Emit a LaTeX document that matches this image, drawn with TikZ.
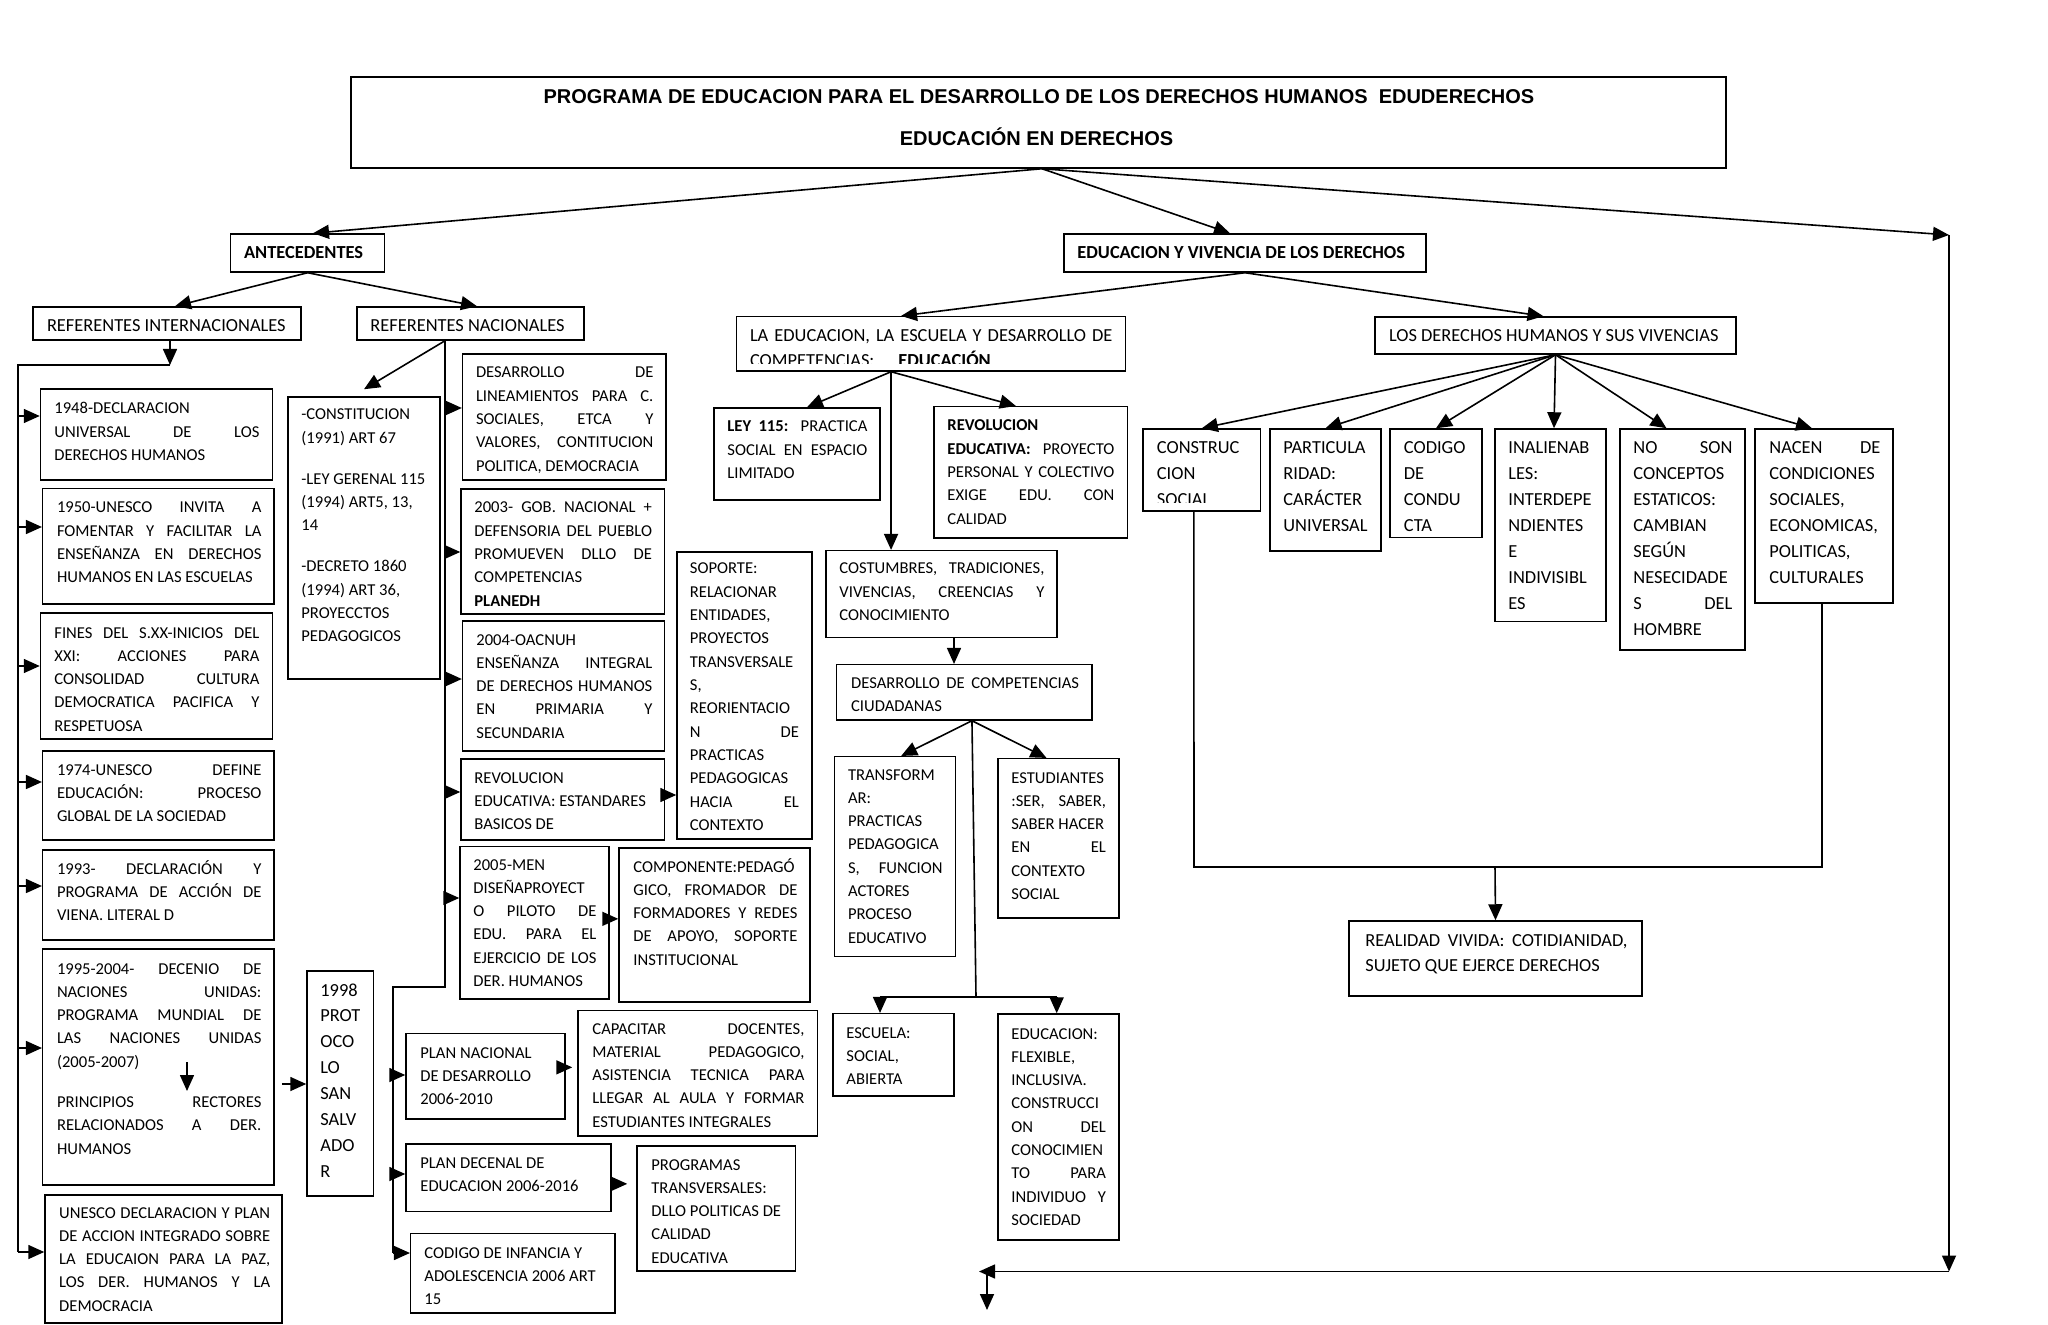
\documentclass[tikz,border=0pt]{standalone}
\usepackage{fontspec}
\setmainfont{Carlito}
\newfontfamily\ttlfont{Liberation Sans}
\usetikzlibrary{arrows.meta,fit,calc}
\newlength\pxu \setlength\pxu{0.5pt}
\hbadness=10000 \hfuzz=3pt
\newcommand\fsA{\fontsize{8.3}{11.65}\selectfont}
\newcommand\fsB{\fontsize{9.2}{12.95}\selectfont}
\newcommand\fsH{\fontsize{9.2}{12.5}\selectfont}
\newcommand\myj[1]{\hbox to\hsize{#1}}
\newcommand\myl[1]{\hbox to\hsize{#1\hfil}}
\newcommand\bx[5]{\node[frame, fit={(#2,#3)(#4,#5)}] (#1) {};}
\newcommand\tx[6][tx]{\node[#1] (#2) at (#3,#4) {\vtop{\hsize=#5\pxu\relax #6}};}
\tikzset{
  frame/.style={draw, line width=0.75pt, inner sep=0pt},
  tx/.style={inner sep=0pt, anchor=base west, font=\fsA},
  txB/.style={inner sep=0pt, anchor=base west, font=\fsB},
  txH/.style={inner sep=0pt, anchor=base west, font=\fsH},
  arr/.style={line width=0.8pt, -{Triangle[length=8pt,width=7pt]}},
  ln/.style={line width=0.8pt}
}
\begin{document}
\begin{tikzpicture}[x=0.5pt,y=-0.5pt]
\fill[white] (0,0) rectangle (2048,1325);
\useasboundingbox (0,0) rectangle (2048,1325);

% ---------- title ----------
\bx{ttl}{351}{77}{1726}{168}
\node[inner sep=0pt, anchor=base, font=\ttlfont\bfseries\fontsize{10}{21}\selectfont] (ttl1) at (1039,104) {PROGRAMA DE EDUCACION PARA EL DESARROLLO DE LOS DERECHOS HUMANOS\ \ EDUDERECHOS};
\node[inner sep=0pt, anchor=base, font=\ttlfont\bfseries\fontsize{10}{21}\selectfont] (ttl2) at (1036.5,146) {EDUCACIÓN EN DERECHOS};

% ---------- level 1 ----------
\bx{ante}{230.5}{234}{384.7}{272}
\tx[txH]{antet}{243.6}{259}{200}{\myl{\textbf{ANTECEDENTES}}}
\bx{eyv}{1064}{234}{1426}{272}
\tx[txH]{eyvt}{1077}{259}{400}{\myl{\textbf{EDUCACION Y VIVENCIA DE LOS DERECHOS}}}

% ---------- level 2 ----------
\bx{refint}{33}{307}{301}{340}
\tx[txH]{refintt}{46.6}{331.7}{300}{\myl{REFERENTES INTERNACIONALES}}
\bx{refnac}{357}{307}{584}{340}
\tx[txH]{refnact}{370}{332}{300}{\myl{REFERENTES NACIONALES}}
\bx{laedu}{736.6}{316.7}{1125.5}{371}
\begin{scope}
\clip (736.6,316.7) rectangle (1125.5,364);
\tx[txH]{laedut}{749.6}{341.7}{362.4}{\myj{LA EDUCACION, LA ESCUELA Y DESARROLLO DE}\myl{COMPETENCIAS:\hspace{12pt}\textbf{EDUCACIÓN}}}
\end{scope}
\bx{losder}{1375}{317}{1736}{354}
\tx[txH]{losdert}{1388.6}{341.7}{400}{\myl{LOS DERECHOS HUMANOS Y SUS VIVENCIAS}}

% ---------- internacionales ----------
\bx{i1948}{40.5}{389}{272.7}{480}
\tx{i1948t}{54}{414}{205}{\myl{1948-DECLARACION}\myj{UNIVERSAL DE LOS}\myl{DERECHOS HUMANOS}}
\bx{i1950}{42.7}{488.7}{274}{604}
\tx{i1950t}{56.6}{513}{204.4}{\myj{1950-UNESCO INVITA A}\myj{FOMENTAR Y FACILITAR LA}\myj{ENSEÑANZA EN DERECHOS}\myl{HUMANOS EN LAS ESCUELAS}}
\bx{ifines}{40.5}{613}{272.7}{739}
\tx{ifinest}{54}{638}{205}{\myj{FINES DEL S.XX-INICIOS DEL}\myj{XXI: ACCIONES PARA}\myj{CONSOLIDAD CULTURA}\myj{DEMOCRATICA PACIFICA Y}\myl{RESPETUOSA}}
\bx{i1974}{42.7}{751}{274}{840}
\tx{i1974t}{56.6}{775}{204.4}{\myj{1974-UNESCO DEFINE}\myj{EDUCACIÓN: PROCESO}\myl{GLOBAL DE LA SOCIEDAD}}
\bx{i1993}{42.7}{850}{274}{940}
\tx{i1993t}{56.6}{874}{204.4}{\myj{1993- DECLARACIÓN Y}\myj{PROGRAMA DE ACCIÓN DE}\myl{VIENA. LITERAL D}}
\bx{i1995}{42.7}{949}{274}{1185}
\tx{i1995t}{56.6}{974}{204.4}{\myj{1995-2004- DECENIO DE}\myj{NACIONES UNIDAS:}\myj{PROGRAMA MUNDIAL DE}\myj{LAS NACIONES UNIDAS}\myl{(2005-2007)}\vskip8.5pt\myj{PRINCIPIOS RECTORES}\myj{RELACIONADOS A DER.}\myl{HUMANOS}}
\coordinate (ia) at (187,1062);
\coordinate (ib) at (187,1091);
\draw[arr] (ia) -- (ib);
\bx{iunesco}{45}{1195}{282}{1323}
\tx{iunescot}{58.8}{1218}{211}{\myj{UNESCO DECLARACION Y PLAN}\myj{DE ACCION INTEGRADO SOBRE}\myj{LA EDUCAION PARA LA PAZ,}\myj{LOS DER. HUMANOS Y LA}\myl{DEMOCRACIA}}
\bx{p1998}{307}{971}{373.7}{1196}
\tx[txB]{p1998t}{320}{996}{60}{\myl{1998}\myl{PROT}\myl{OCO}\myl{LO}\myl{SAN}\myl{SALV}\myl{ADO}\myl{R}}

% ---------- nacionales ----------
\bx{constit}{288}{397}{440}{679}
\tx{constitt}{301}{420}{200}{\myl{-CONSTITUCION}\myl{(1991) ART 67}\vskip8.85pt\myl{-LEY GERENAL 115}\myl{(1994) ART5, 13,}\myl{14}\vskip8.85pt\myl{-DECRETO 1860}\myl{(1994) ART 36,}\myl{PROYECCTOS}\myl{PEDAGOGICOS}}
\bx{desarr}{462.6}{354}{666}{480}
\tx{desarrt}{475.6}{378}{177.4}{\myj{DESARROLLO DE}\myj{LINEAMIENTOS PARA C.}\myj{SOCIALES, ETCA Y}\myj{VALORES, CONTITUCION}\myl{POLITICA, DEMOCRACIA}}
\bx{n2003}{461}{489}{664.7}{614}
\tx{n2003t}{474}{513}{177.6}{\myj{2003- GOB. NACIONAL +}\myj{DEFENSORIA DEL PUEBLO}\myj{PROMUEVEN DLLO DE}\myl{COMPETENCIAS}\myl{\textbf{PLANEDH}}}
\bx{n2004}{462.6}{621}{664.7}{751}
\tx{n2004t}{476}{645}{176}{\myl{2004-OACNUH}\myj{ENSEÑANZA INTEGRAL}\myj{DE DERECHOS HUMANOS}\myj{EN PRIMARIA Y}\myl{SECUNDARIA}}
\bx{nrevol}{461}{759}{664.7}{840}
\tx{nrevolt}{474}{783}{190}{\myl{REVOLUCION}\myl{EDUCATIVA: ESTANDARES}\myl{BASICOS DE}}
\bx{soporte}{677}{552}{812}{839}
\tx{soportet}{689.5}{574}{109}{\myl{SOPORTE:}\myl{RELACIONAR}\myl{ENTIDADES,}\myl{PROYECTOS}\myl{TRANSVERSALE}\myl{S,}\myl{REORIENTACIO}\myj{N DE}\myl{PRACTICAS}\myl{PEDAGOGICAS}\myj{HACIA EL}\myl{CONTEXTO}}
\bx{n2005}{460}{846.7}{609}{999}
\tx{n2005t}{473}{870}{123}{\myl{2005-MEN}\myl{DISEÑAPROYECT}\myj{O PILOTO DE}\myj{EDU. PARA EL}\myj{EJERCICIO DE LOS}\myl{DER. HUMANOS}}
\bx{compon}{619}{848}{810}{1002}
\tx{compont}{633}{872}{164}{\myl{COMPONENTE:PEDAGÓ}\myj{GICO, FROMADOR DE}\myj{FORMADORES Y REDES}\myj{DE APOYO, SOPORTE}\myl{INSTITUCIONAL}}
\bx{plannac}{406}{1033.7}{565}{1119}
\tx{plannact}{420}{1058}{150}{\myl{PLAN NACIONAL}\myl{DE DESARROLLO}\myl{2006-2010}}
\bx{capac}{578}{1010.7}{817.7}{1136}
\tx{capact}{592}{1034}{212}{\myj{CAPACITAR DOCENTES,}\myj{MATERIAL PEDAGOGICO,}\myj{ASISTENCIA TECNICA PARA}\myj{LLEGAR AL AULA Y FORMAR}\myl{ESTUDIANTES INTEGRALES}}
\bx{plandec}{406}{1144}{611}{1211.7}
\tx{plandect}{420}{1168}{190}{\myl{PLAN DECENAL DE}\myl{EDUCACION 2006-2016}}
\bx{program}{637}{1146}{795.7}{1271}
\tx{programt}{651}{1170}{150}{\myl{PROGRAMAS}\myl{TRANSVERSALES:}\myl{DLLO POLITICAS DE}\myl{CALIDAD}\myl{EDUCATIVA}}
\bx{codigo}{410.7}{1233.7}{615}{1313}
\tx{codigot}{424}{1258}{190}{\myl{CODIGO DE INFANCIA Y}\myl{ADOLESCENCIA 2006 ART}\myl{15}}

% ---------- centro ----------
\bx{ley115}{714}{408}{880}{500}
\tx{ley115t}{727}{432}{140}{\myj{\textbf{LEY 115:} PRACTICA}\myj{SOCIAL EN ESPACIO}\myl{LIMITADO}}
\bx{revedu}{934}{406.7}{1127.7}{538}
\tx{revedut}{947}{431}{167}{\myl{\textbf{REVOLUCION}}\myj{\textbf{EDUCATIVA:} PROYECTO}\myj{PERSONAL Y COLECTIVO}\myj{EXIGE EDU. CON}\myl{CALIDAD}}
\bx{costum}{826}{550.7}{1057}{637.7}
\tx{costumt}{839}{574}{205}{\myj{COSTUMBRES, TRADICIONES,}\myj{VIVENCIAS, CREENCIAS Y}\myl{CONOCIMIENTO}}
\bx{descomp}{836.7}{664.7}{1092}{720}
\tx{descompt}{850.7}{688}{228}{\myj{DESARROLLO DE COMPETENCIAS}\myl{CIUDADANAS}}
\bx{transf}{834.6}{756.7}{955.7}{956.7}
\tx{transft}{847.6}{780}{94.5}{\myl{TRANSFORM}\myl{AR:}\myl{PRACTICAS}\myl{PEDAGOGICA}\myj{S, FUNCION}\myl{ACTORES}\myl{PROCESO}\myl{EDUCATIVO}}
\bx{estud}{998}{758.7}{1119}{918}
\tx{estudt}{1011}{783}{94.5}{\myl{ESTUDIANTES}\myj{:SER, SABER,}\myl{SABER HACER}\myj{EN EL}\myl{CONTEXTO}\myl{SOCIAL}}
\bx{escuela}{833}{1013.7}{954}{1096}
\tx{escuelat}{846}{1038}{100}{\myl{ESCUELA:}\myl{SOCIAL,}\myl{ABIERTA}}
\bx{educfl}{998}{1014}{1119}{1240}
\tx{educflt}{1011}{1039}{94.5}{\myl{EDUCACION:}\myl{FLEXIBLE,}\myl{INCLUSIVA.}\myl{CONSTRUCCI}\myj{ON DEL}\myl{CONOCIMIEN}\myj{TO PARA}\myj{INDIVIDUO Y}\myl{SOCIEDAD}}

% ---------- derecha ----------
\bx{constr}{1143}{429}{1260.6}{511}
\begin{scope}
\clip (1143,429) rectangle (1260.6,503);
\tx[txB]{constrt}{1156.5}{454}{100}{\myl{CONSTRUC}\myl{CION}\myl{SOCIAL}}
\end{scope}
\bx{partic}{1270}{429}{1381}{551}
\tx[txB]{partict}{1283}{454}{95}{\myl{PARTICULA}\myl{RIDAD:}\myl{CARÁCTER}\myl{UNIVERSAL}}
\bx{codcond}{1390}{429}{1482}{537.7}
\tx[txB]{codcondt}{1403.5}{454}{75}{\myl{CODIGO}\myl{DE}\myl{CONDU}\myl{CTA}}
\bx{inalien}{1495}{429}{1606}{621.7}
\tx[txB]{inalient}{1508}{454}{95}{\myl{INALIENAB}\myl{LES:}\myl{INTERDEPE}\myl{NDIENTES}\myl{E}\myl{INDIVISIBL}\myl{ES}}
\bx{noson}{1620}{429}{1745}{650}
\tx[txB]{nosont}{1633}{454}{99}{\myj{NO SON}\myl{CONCEPTOS}\myl{ESTATICOS:}\myl{CAMBIAN}\myl{SEGÚN}\myl{NESECIDADE}\myj{S DEL}\myl{HOMBRE}}
\bx{nacen}{1755}{429}{1893}{603}
\tx[txB]{nacent}{1769}{454}{111}{\myj{NACEN DE}\myl{CONDICIONES}\myl{SOCIALES,}\myl{ECONOMICAS,}\myl{POLITICAS,}\myl{CULTURALES}}
\bx{realid}{1349}{921}{1642}{996}
\tx[txB]{realidt}{1365}{946}{262}{\myj{REALIDAD VIVIDA: COTIDIANIDAD,}\myl{SUJETO QUE EJERCE DERECHOS}}

% ---------- connectors ----------
\coordinate (tO) at ([xshift=1.75pt]ttl.south);
\draw[arr] (tO) -- ([xshift=2.7pt]ante.north);
\draw[arr] (tO) -- ([xshift=-7.5pt]eyv.north);
\coordinate (rc1) at (1949,235);
\coordinate (rc2) at (1949,1271.5);
\coordinate (rc3) at (979,1271.5);
\coordinate (rc4) at (987,1271.5);
\coordinate (rc5) at (987,1310);
\draw[arr] (tO) -- (rc1);
\draw[arr] (rc1) -- (rc2);
\draw[arr] (rc2) -- (rc3);
\draw[arr] (rc4) -- (rc5);

\draw[arr] (ante.south) -- ([xshift=4pt]refint.north);
\draw[arr] (ante.south) -- ([xshift=3.25pt]refnac.north);

% international spine
\coordinate (i0) at (170,365);
\coordinate (sp0) at (18,365);
\coordinate (sp1) at (18,1252);
\draw[arr] ([xshift=1.5pt]refint.south) -- (i0);
\draw[ln] (i0) -- (sp0) -- (sp1);
\coordinate (sa1) at (18,416);
\coordinate (sa2) at (18,527);
\coordinate (sa3) at (18,666);
\coordinate (sa4) at (18,782);
\coordinate (sa5) at (18,886);
\coordinate (sa6) at (18,1048);
\coordinate (sa7) at (18,1252);
\draw[arr] (sa1) -- (sa1 -| i1948.west);
\draw[arr] (sa2) -- (sa2 -| i1950.west);
\draw[arr] (sa3) -- (sa3 -| ifines.west);
\draw[arr] (sa4) -- (sa4 -| i1974.west);
\draw[arr] (sa5) -- (sa5 -| i1993.west);
\draw[arr] (sa6) -- (sa6 -| i1995.west);
\draw[arr] (sa7) -- (sa7 -| iunesco.west);
\draw[arr] ([xshift=3.5pt,yshift=-8.5pt]i1995.east) -- ([yshift=-8.5pt]i1995.east -| p1998.west);

% national spine
\coordinate (nS) at ([xshift=-12.75pt]refnac.south);
\coordinate (nA) at (445,987);
\coordinate (nB) at (393,987);
\coordinate (nC) at (393,1253);
\draw[arr] (nS) -- ([yshift=3.5pt]constit.north);
\draw[ln] (nS) -- (nA) -- (nB) -- (nC);
\coordinate (na1) at (445,408);
\coordinate (na2) at (445,552);
\coordinate (na3) at (445,679);
\coordinate (na4) at (445,792);
\coordinate (na5) at (445,898);
\draw[arr] (na1) -- (na1 -| desarr.west);
\draw[arr] (na2) -- (na2 -| n2003.west);
\draw[arr] (na3) -- (na3 -| n2004.west);
\draw[arr] (na4) -- (na4 -| nrevol.west);
\draw[arr] (na5) -- (na5 -| n2005.west);
\coordinate (nb1) at (393,1075);
\coordinate (nb2) at (393,1174);
\coordinate (nb3) at (393,1253);
\draw[arr] (nb1) -- (nb1 -| plannac.west);
\draw[arr] (nb2) -- (nb2 -| plandec.west);
\draw[arr] (nb3) -- (nb3 -| codigo.west);

\draw[arr] ([yshift=2.25pt]nrevol.east) -- ([yshift=2.25pt]nrevol.east -| soporte.west);
\draw[arr] ([yshift=2pt]n2005.east) -- ([yshift=2pt]n2005.east -| compon.west);
\draw[arr] ([yshift=4.5pt]plannac.east) -- ([xshift=-2.5pt,yshift=4.5pt]plannac.east -| capac.west);
\draw[arr] ([yshift=-3pt]plandec.east) -- ([xshift=-4.5pt,yshift=-3pt]plandec.east -| program.west);

% educacion y vivencia
\draw[arr] (eyv.south) -- ([xshift=-15pt]laedu.north);
\draw[arr] (eyv.south) -- ([xshift=-6pt]losder.north);
\coordinate (lb) at ([xshift=-20pt]laedu.south);
\draw[arr] (lb) -- ([xshift=5pt]ley115.north);
\draw[arr] (lb) -- ([xshift=-7.5pt]revedu.north);
\draw[arr] (lb) -- (lb |- costum.north);
\draw[arr] ([xshift=6.25pt]costum.south) -- ([xshift=6.25pt]costum.south |- descomp.north);
\coordinate (db) at ([xshift=3.8pt]descomp.south);
\draw[arr] (db) -- ([xshift=3pt]transf.north);
\draw[arr] (db) -- ([xshift=-6pt]estud.north);
\coordinate (dv) at (976,997);
\coordinate (dl) at (880,997);
\coordinate (dr) at (1056.7,997);
\draw[ln] (db) -- (dv);
\draw[ln] (dl) -- (dr);
\draw[arr] (dl) -- (dl |- escuela.north);
\draw[arr] (dr) -- (dr |- educfl.north);

% derechos fan
\draw[arr] (losder.south) -- (constr.north);
\draw[arr] (losder.south) -- (partic.north);
\draw[arr] (losder.south) -- (codcond.north);
\draw[arr] (losder.south) -- ([xshift=1.75pt]inalien.north);
\draw[arr] (losder.south) -- ([xshift=-8pt]noson.north);
\draw[arr] (losder.south) -- ([xshift=-6pt]nacen.north);
\coordinate (h1) at (1194,867);
\coordinate (h2) at (1822,867);
\coordinate (hm) at (1495,867);
\draw[ln] ([xshift=-4pt]constr.south) -- (h1) -- (h2) -- ([xshift=-1pt]nacen.south);
\draw[arr] (hm) -- (realid.north);
\end{tikzpicture}
\end{document}
